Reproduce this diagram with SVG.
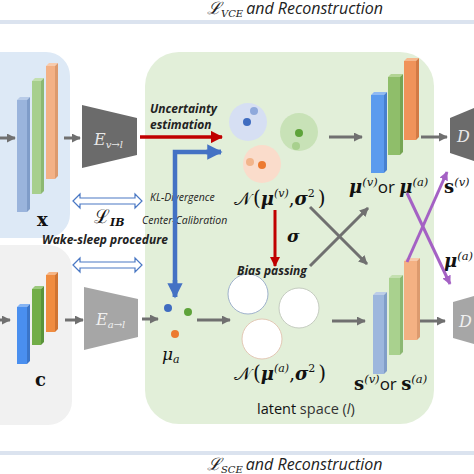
<svg xmlns="http://www.w3.org/2000/svg" width="474" height="474" viewBox="0 0 474 474">
<defs>
<style>
.lbl{font-family:"Open Sans","Liberation Sans",sans-serif;font-style:italic;fill:#222}
.b{font-weight:bold}
.math{font-family:"DejaVu Serif","Liberation Serif",serif;fill:#111}
.gl{stroke:#707070;stroke-width:3;fill:none}
.sep{stroke:#dbe3ef;stroke-width:4}
</style>
<marker id="ag" viewBox="0 0 10 10" refX="9" refY="5" markerWidth="3" markerHeight="3" orient="auto"><path d="M0,0L10,5L0,10z" fill="#707070"/></marker>
<marker id="ar" viewBox="0 0 10 10" refX="9" refY="5" markerWidth="3.5" markerHeight="3.5" orient="auto"><path d="M0,0L10,5L0,10z" fill="#c00000"/></marker>
<marker id="ab" viewBox="0 0 10 10" refX="9" refY="5" markerWidth="3.4" markerHeight="3.4" orient="auto"><path d="M0,0L10,5L0,10z" fill="#4472c4"/></marker>
<marker id="ap" viewBox="0 0 10 10" refX="9" refY="5" markerWidth="3" markerHeight="3" orient="auto"><path d="M0,0L10,5L0,10z" fill="#a461c4"/></marker>
</defs>
<rect width="474" height="474" fill="#fff"/>

<g id="title-top">
<line class="sep" x1="0" y1="22" x2="474" y2="22"/>
<text x="207" y="14" class="lbl" font-size="16"><tspan font-family="DejaVu Serif" font-size="17">ℒ</tspan><tspan font-family="DejaVu Serif" font-size="10" dy="3">VCE</tspan><tspan dy="-3" dx="3">and Reconstruction</tspan></text>
</g>
<g id="title-bottom">
<line class="sep" x1="0" y1="453" x2="474" y2="453"/>
<text x="207" y="470" class="lbl" font-size="16"><tspan font-family="DejaVu Serif" font-size="17">ℒ</tspan><tspan font-family="DejaVu Serif" font-size="10" dy="3">SCE</tspan><tspan dy="-3" dx="3">and Reconstruction</tspan></text>
</g>

<g id="panel-x"><rect x="-30" y="52" width="100" height="186" rx="24" fill="#dde9f6"/></g>
<g id="panel-c"><rect x="-30" y="245" width="102" height="180" rx="24" fill="#f1f1f1"/></g>
<g id="panel-latent"><rect x="145" y="52" width="289" height="372" rx="34" fill="#e2efd9"/></g>

<g id="bars-x">
<polygon points="17,100 20,97 30,97 27,100" fill="#b8cbe8"/><rect x="17" y="100" width="10" height="112" fill="#9ab4dc"/><polygon points="27,100 30,97 30,209 27,212" fill="#7f9cc8"/>
<polygon points="32,81 35,78 44,78 41,81" fill="#c3e0af"/><rect x="32" y="81" width="9" height="113" fill="#a7cf8d"/><polygon points="41,81 44,78 44,191 41,194" fill="#8cb872"/>
<polygon points="46,66 49,63 58,63 55,66" fill="#f7cbad"/><rect x="46" y="66" width="9" height="113" fill="#f3b186"/><polygon points="55,66 58,63 58,176 55,179" fill="#dc9a6e"/>
<text x="37" y="226" class="math" font-size="18" font-weight="bold">x</text>
</g>

<g id="bars-c">
<polygon points="17,307 20,304 30,304 27,307" fill="#86b4f3"/><rect x="17" y="307" width="10" height="57" fill="#4a8fef"/><polygon points="27,307 30,304 30,361 27,364" fill="#3a75c9"/>
<polygon points="32,289 35,286 44,286 41,289" fill="#9cc97e"/><rect x="32" y="289" width="9" height="56" fill="#72ae48"/><polygon points="41,289 44,286 44,342 41,345" fill="#5a933a"/>
<polygon points="46,275 49,272 58,272 55,275" fill="#f6b585"/><rect x="46" y="275" width="9" height="57" fill="#f08c40"/><polygon points="55,275 58,272 58,329 55,332" fill="#d07432"/>
<text x="35" y="386" class="math" font-size="18" font-weight="bold">c</text>
</g>

<g id="enc-v">
<polygon points="82,105 137,118 137,155 82,168" fill="#6b6b6b"/>
<text x="94" y="145" font-family="DejaVu Serif" font-style="italic" font-size="16" fill="#e8e8e8">E<tspan font-size="10" dy="3">v→l</tspan></text>
</g>
<g id="enc-a">
<polygon points="84,287 138,299 138,337 84,350" fill="#a6a6a6"/>
<text x="96" y="325" font-family="DejaVu Serif" font-style="italic" font-size="16" fill="#f0f0f0">E<tspan font-size="10" dy="3">a→l</tspan></text>
</g>

<g id="dec-top">
<polygon points="450,118 474,108 474,161 450,153" fill="#6b6b6b"/>
<text x="457" y="142" font-family="DejaVu Serif" font-style="italic" font-size="16" fill="#e8e8e8">D</text>
</g>
<g id="dec-bottom">
<polygon points="453,302 474,296 474,344 453,338" fill="#a6a6a6"/>
<text x="459" y="327" font-family="DejaVu Serif" font-style="italic" font-size="16" fill="#f0f0f0">D</text>
</g>

<g id="dists-v">
<circle cx="248" cy="122" r="19" fill="#d6dff3"/>
<circle cx="254" cy="111" r="4" fill="#8fa9db"/><circle cx="247" cy="122" r="4" fill="#3f6cc0"/>
<circle cx="299" cy="132" r="19" fill="#c8e2b7"/>
<circle cx="299" cy="133" r="4" fill="#5ea33a"/><circle cx="296" cy="146" r="4" fill="#a8d08e"/>
<circle cx="262" cy="164" r="19" fill="#fadccb"/>
<circle cx="250" cy="162" r="4" fill="#f2b48a"/><circle cx="262" cy="165" r="4" fill="#ec7a30"/>
<text x="234" y="205" class="math" font-size="18">𝒩<tspan dx="2" font-size="20">(</tspan><tspan font-weight="bold" font-style="italic">μ</tspan><tspan font-size="11" font-style="italic" dy="-8">(v)</tspan><tspan dy="8">,</tspan><tspan font-weight="bold" font-style="italic">σ</tspan><tspan font-size="11" dy="-8">2</tspan><tspan dy="8" dx="3" font-size="20">)</tspan></text>
</g>

<g id="mu-a">
<circle cx="168" cy="308" r="4" fill="#3f6cc0"/>
<circle cx="188" cy="312" r="4" fill="#5ea33a"/>
<circle cx="175" cy="334" r="4" fill="#ec7a30"/>
<text x="162" y="360" class="math" font-size="17" font-style="italic">μ<tspan font-size="11" dy="3">a</tspan></text>
</g>

<g id="dists-a">
<circle cx="248" cy="294" r="20" fill="#fff" stroke="#9fb2cc" stroke-width="1"/>
<circle cx="299" cy="308" r="20" fill="#fff" stroke="#c5ccc0" stroke-width="1"/>
<circle cx="262" cy="339" r="20" fill="#fff" stroke="#e3c8b5" stroke-width="1"/>
<text x="234" y="380" class="math" font-size="18">𝒩<tspan dx="2" font-size="20">(</tspan><tspan font-weight="bold" font-style="italic">μ</tspan><tspan font-size="11" font-style="italic" dy="-8">(a)</tspan><tspan dy="8">,</tspan><tspan font-weight="bold" font-style="italic">σ</tspan><tspan font-size="11" dy="-8">2</tspan><tspan dy="8" dx="3" font-size="20">)</tspan></text>
</g>

<g id="bars-mu">
<polygon points="371,95 374,92 387,92 384,95" fill="#8fbaf3"/><rect x="371" y="95" width="13" height="78" fill="#5b9bee"/><polygon points="384,95 387,92 387,170 384,173" fill="#4680cf"/>
<polygon points="388,77 391,74 403,74 400,77" fill="#b2d494"/><rect x="388" y="77" width="12" height="78" fill="#8fbe6a"/><polygon points="400,77 403,74 403,152 400,155" fill="#76a553"/>
<polygon points="404,61 407,58 419,58 416,61" fill="#f6b98e"/><rect x="404" y="61" width="12" height="79" fill="#f0935a"/><polygon points="416,61 419,58 419,137 416,140" fill="#d27a45"/>
<text x="349" y="193" class="math" font-size="18"><tspan font-weight="bold" font-style="italic">μ</tspan><tspan font-size="11.5" font-style="italic" dy="-7">(v)</tspan><tspan dy="7" font-family="Open Sans,Liberation Sans,sans-serif" font-size="17">or </tspan><tspan font-weight="bold" font-style="italic">μ</tspan><tspan font-size="11.5" font-style="italic" dy="-7">(a)</tspan></text>
</g>

<g id="bars-s">
<polygon points="373,295 376,292 387,292 384,295" fill="#bccde8"/><rect x="373" y="295" width="11" height="79" fill="#9db7dd"/><polygon points="384,295 387,292 387,371 384,374" fill="#819ec8"/>
<polygon points="389,278 392,275 403,275 400,278" fill="#c4e0b0"/><rect x="389" y="278" width="11" height="77" fill="#a9d18e"/><polygon points="400,278 403,275 403,352 400,355" fill="#8cb872"/>
<polygon points="404,261 407,258 420,258 417,261" fill="#f7cbad"/><rect x="404" y="261" width="13" height="79" fill="#f4b183"/><polygon points="417,261 420,258 420,337 417,340" fill="#dc9a6e"/>
<text x="354" y="390" class="math" font-size="18"><tspan font-weight="bold">s</tspan><tspan font-size="11.5" font-style="italic" dy="-7">(v)</tspan><tspan dy="7" font-family="Open Sans,Liberation Sans,sans-serif" font-size="17">or </tspan><tspan font-weight="bold">s</tspan><tspan font-size="11.5" font-style="italic" dy="-7">(a)</tspan></text>
</g>

<g id="side-labels">
<text x="444" y="193" class="math" font-size="18"><tspan font-weight="bold">s</tspan><tspan font-size="11.5" font-style="italic" dy="-7">(v)</tspan></text>
<text x="444" y="267" class="math" font-size="18"><tspan font-weight="bold" font-style="italic">μ</tspan><tspan font-size="11.5" font-style="italic" dy="-7">(a)</tspan></text>
</g>

<g id="texts">
<text x="150" y="113" class="lbl b" font-size="12">Uncertainty</text>
<text x="150" y="129" class="lbl b" font-size="12">estimation</text>
<text x="150" y="201" class="lbl" font-size="10.5">KL-Divergence</text>
<text x="142" y="224" class="lbl" font-size="10.5">Center-Calibration</text>
<text x="42" y="244" class="lbl b" font-size="12">Wake-sleep procedure</text>
<text x="94" y="223" class="math" font-size="19">ℒ<tspan font-size="11" font-style="italic" font-weight="bold" dy="3">IB</tspan></text>
<text x="287" y="242" class="math" font-size="17" font-weight="bold" font-style="italic">σ</text>
<text x="237" y="275" class="lbl b" font-size="12">Bias passing</text>
<text x="257" y="414" font-family="Open Sans,Liberation Sans,sans-serif" font-size="14.5" fill="#333"><tspan fill="#111">latent</tspan> space (<tspan font-style="italic">l</tspan>)</text>
</g>

<g id="connectors">
<line class="gl" x1="0" y1="138" x2="15" y2="138" marker-end="url(#ag)"/>
<line class="gl" x1="64" y1="138" x2="80" y2="138" marker-end="url(#ag)"/>
<line class="gl" x1="0" y1="320" x2="10" y2="320" marker-end="url(#ag)"/>
<line class="gl" x1="65" y1="320" x2="83" y2="320" marker-end="url(#ag)"/>
<line class="gl" x1="142" y1="319" x2="158" y2="319" marker-end="url(#ag)"/>
<line class="gl" x1="197" y1="320" x2="230" y2="320" marker-end="url(#ag)"/>
<line class="gl" x1="329" y1="137" x2="362" y2="137" marker-end="url(#ag)"/>
<line class="gl" x1="421" y1="137" x2="447" y2="137" marker-end="url(#ag)"/>
<line class="gl" x1="332" y1="321" x2="365" y2="321" marker-end="url(#ag)"/>
<line class="gl" x1="420" y1="321" x2="445" y2="321" marker-end="url(#ag)"/>
<line class="gl" x1="310" y1="207" x2="367" y2="264" marker-end="url(#ag)"/>
<line class="gl" x1="310" y1="266" x2="368" y2="208" marker-end="url(#ag)"/>
<line x1="140" y1="137" x2="222" y2="137" stroke="#c00000" stroke-width="3.5" marker-end="url(#ar)"/>
<line x1="275" y1="210" x2="275" y2="266" stroke="#c00000" stroke-width="3" marker-end="url(#ar)"/>
<polyline points="221,152 175,152 175,297" fill="none" stroke="#4472c4" stroke-width="4.5"/>
<line x1="206" y1="152" x2="221" y2="152" stroke="#4472c4" stroke-width="4.5" marker-end="url(#ab)"/>
<line x1="175" y1="280" x2="175" y2="297" stroke="#4472c4" stroke-width="4.5" marker-end="url(#ab)"/>
<line x1="407" y1="193" x2="450" y2="284" stroke="#a461c4" stroke-width="3" marker-end="url(#ap)"/>
<line x1="407" y1="262" x2="447" y2="172" stroke="#a461c4" stroke-width="3" marker-end="url(#ap)"/>
<path d="M73,201 L80,194 L80,198 L135,198 L135,194 L142,201 L135,208 L135,204 L80,204 L80,208 Z" fill="#fff" stroke="#4a78c4" stroke-width="1.2"/>
<path d="M73,265 L80,258 L80,262 L135,262 L135,258 L142,265 L135,272 L135,268 L80,268 L80,272 Z" fill="#fff" stroke="#4a78c4" stroke-width="1.2"/>
</g>
</svg>
